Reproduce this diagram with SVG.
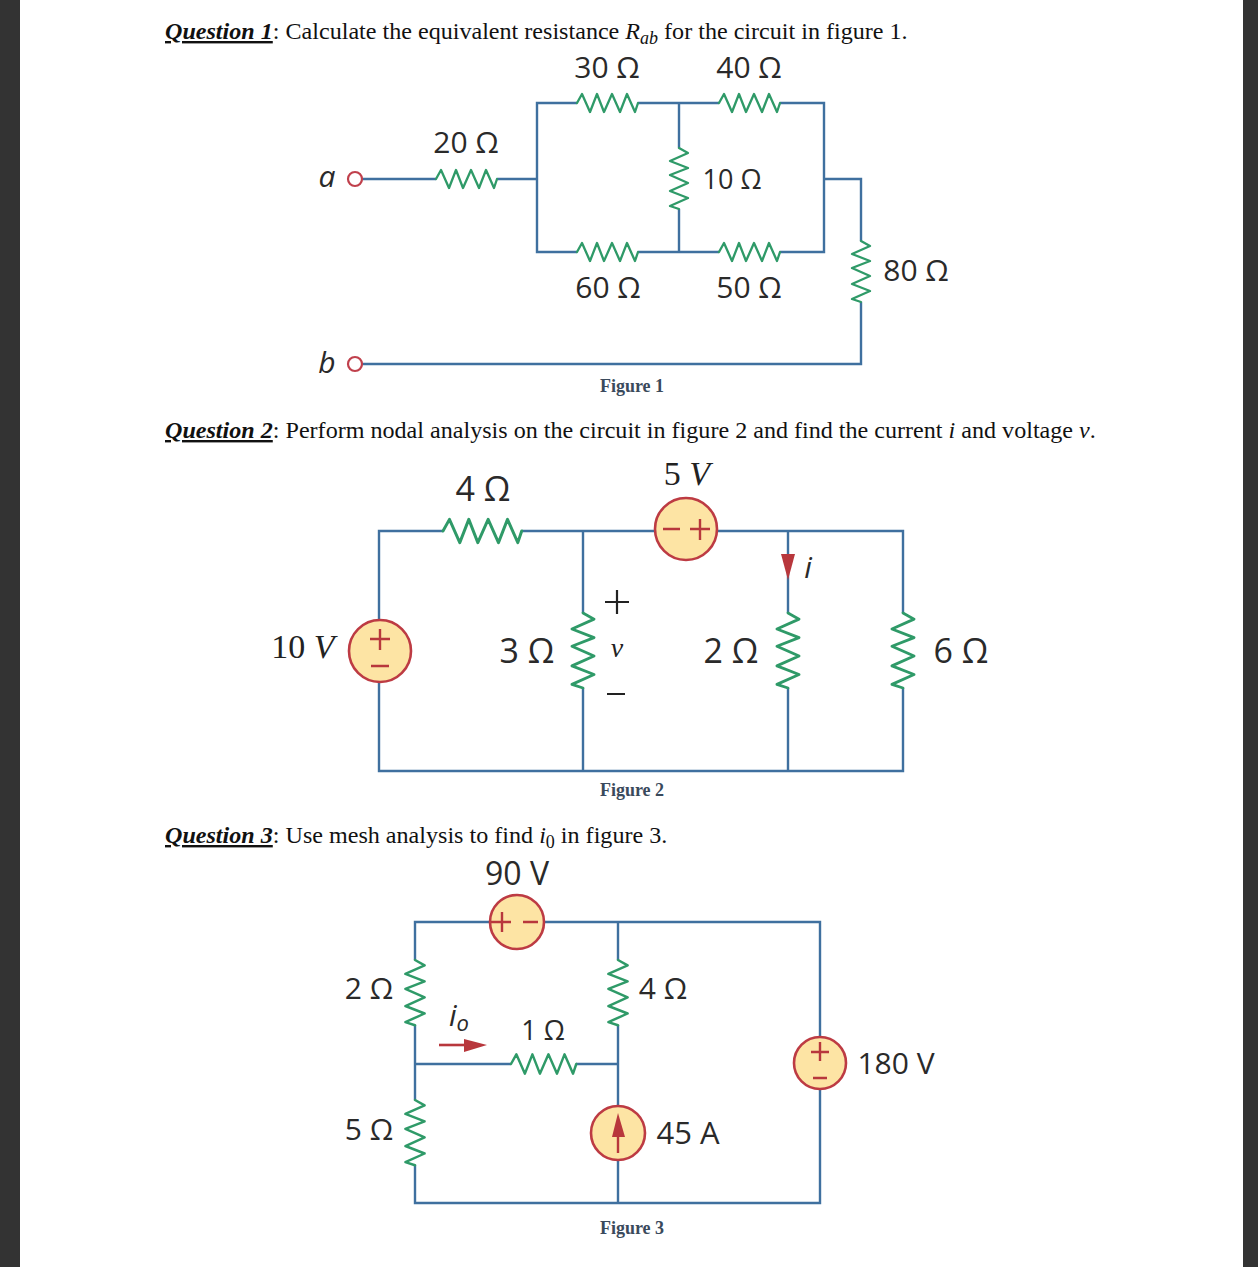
<svg xmlns="http://www.w3.org/2000/svg" width="1258" height="1267" viewBox="0 0 1258 1267">
<style>
.w{fill:none;stroke:#3f709f;stroke-width:2.4;stroke-linejoin:miter}
.z{fill:none;stroke:#2f9a68;stroke-width:2.3;stroke-linejoin:round;stroke-linecap:round}
.src{fill:#fde4a4;stroke:#bd3b43;stroke-width:2.6}
.sym{fill:none;stroke:#b8373c;stroke-width:2.4}
.term{fill:#fff;stroke:#c0404c;stroke-width:2.2}
.red{fill:#b8373c}
.q{font-family:"Liberation Serif",serif;font-size:24.1px;fill:#111}
.qb{font-weight:bold;font-style:italic;text-decoration:underline}
.m{font-style:italic}
.cap{font-family:"Liberation Serif",serif;font-size:18px;font-weight:bold;fill:#3a4a5c;text-anchor:middle}
.l{font-family:"Open Sans",sans-serif;font-size:30px;fill:#2a2a2a;text-anchor:middle}
.l2{font-family:"Open Sans",sans-serif;font-size:34px;fill:#2a2a2a;text-anchor:middle}
.i{font-family:"Open Sans",sans-serif;font-style:italic;fill:#2a2a2a;text-anchor:middle}
.s{font-family:"Liberation Serif",serif;font-size:34px;fill:#222;text-anchor:middle}
</style>
<defs>
<path id="r" class="z" d="M0 0L5-9L13 9L20-9L27 9L35-9L43 9L50-9L58 9L61 0"/>
</defs>
<rect width="1258" height="1267" fill="#fff"/>
<rect x="0" y="0" width="20" height="1267" fill="#333"/>
<rect x="1243" y="0" width="15" height="1267" fill="#333"/>

<g id="question-1">
<text class="q" x="165" y="39"><tspan class="qb">Question 1</tspan>: Calculate the equivalent resistance <tspan class="m">R</tspan><tspan class="m" font-size="18" dy="5">ab</tspan><tspan dy="-5"> for the circuit in figure 1.</tspan></text>
</g>
<g id="question-2">
<text class="q" x="165" y="438"><tspan class="qb">Question 2</tspan>: Perform nodal analysis on the circuit in figure 2 and find the current <tspan class="m">i</tspan> and voltage <tspan class="m">v</tspan>.</text>
</g>
<g id="question-3">
<text class="q" x="165" y="843"><tspan class="qb">Question 3</tspan>: Use mesh analysis to find <tspan class="m">i</tspan><tspan font-size="18" dy="5">0</tspan><tspan dy="-5"> in figure 3.</tspan></text>
</g>

<g id="connectors">
<path class="w" d="M362 179H436M497 179H537M577 103H537V252H577M638 103H719M780 103H824V252H780M719 252H638M679 103V148M679 209V252M824 179H861V241M861 302V364H362"/>
<path class="w" d="M443 531H379V620M379 682V771H903V688M522 531H655M717 531H903V613M583 531V613M583 688V771M788 531V613M788 688V771"/>
<path class="w" d="M490 922H415V960M415 1025V1100M415 1165V1203H820V1090M544 922H820V1037M618 922V960M618 1025V1106M618 1160V1203M415 1064H511M576 1064H618"/>
</g>

<g id="fig1">
<g id="term-a"><circle class="term" cx="355" cy="179" r="7"/><text class="i" x="327" y="187" font-size="30">a</text></g>
<g id="term-b"><circle class="term" cx="355" cy="364" r="7"/><text class="i" x="327" y="373" font-size="30">b</text></g>
<g id="r20"><use href="#r" x="436" y="179"/><text class="l" x="466" y="153">20 Ω</text></g>
<g id="r30"><use href="#r" x="577" y="103"/><text class="l" x="607" y="78">30 Ω</text></g>
<g id="r40"><use href="#r" x="719" y="103"/><text class="l" x="749" y="78">40 Ω</text></g>
<g id="r10"><use href="#r" transform="translate(679 148) rotate(90)"/><text class="l" x="732" y="189" style="font-size:27px">10 Ω</text></g>
<g id="r60"><use href="#r" x="577" y="252"/><text class="l" x="608" y="298">60 Ω</text></g>
<g id="r50"><use href="#r" x="719" y="252"/><text class="l" x="749" y="298">50 Ω</text></g>
<g id="r80"><use href="#r" transform="translate(861 241) rotate(90)"/><text class="l" x="916" y="281">80 Ω</text></g>
<text class="cap" x="632" y="392">Figure 1</text>
</g>

<g id="fig2">
<g id="r4"><use href="#r" transform="translate(443 531) scale(1.29)"/><text class="l2" x="483" y="501">4 Ω</text></g>
<g id="v5"><circle class="src" cx="686" cy="529" r="31"/><path class="sym" d="M663 529H680M690 529H710M700 519V540"/><text class="s" x="687" y="485">5 <tspan font-style="italic">V</tspan></text></g>
<g id="v10"><circle class="src" cx="380" cy="651" r="31"/><path class="sym" d="M380 629V650M370 639H390M371 666H389"/><text class="s" x="303" y="658">10 <tspan font-style="italic">V</tspan></text></g>
<g id="r3"><use href="#r" transform="translate(583 613) rotate(90) scale(1.23)"/><text class="l2" x="527" y="663">3 Ω</text></g>
<g id="r2"><use href="#r" transform="translate(788 613) rotate(90) scale(1.23)"/><text class="l2" x="731" y="663">2 Ω</text></g>
<g id="r6"><use href="#r" transform="translate(903 613) rotate(90) scale(1.23)"/><text class="l2" x="961" y="663">6 Ω</text></g>
<g id="voltage-v"><path d="M617 590V614M605 602H629M607 694H625" fill="none" stroke="#222" stroke-width="2.2"/><text x="617" y="657" font-family="Liberation Serif,serif" font-style="italic" font-size="28" fill="#222" text-anchor="middle">v</text></g>
<g id="current-i"><path class="red" d="M781 554H795L788 580Z"/><text class="i" x="808" y="578" font-size="30">i</text></g>
<text class="cap" x="632" y="796">Figure 2</text>
</g>

<g id="fig3">
<g id="v90"><circle class="src" cx="517" cy="922" r="27"/><path class="sym" d="M491 922H511M502 912V932M523 922H538"/><text class="l" x="517" y="885" style="font-size:32px">90 V</text></g>
<g id="v180"><circle class="src" cx="820" cy="1063" r="26"/><path class="sym" d="M820 1042V1061M811 1052H829M813 1078H827"/><text class="l" x="896" y="1074">180 V</text></g>
<g id="a45"><circle class="src" cx="618" cy="1133" r="27"/><path class="sym" d="M618 1153V1130"/><path class="red" d="M612 1137H625L618 1113Z"/><text class="l" x="688" y="1144" style="font-size:31px">45 A</text></g>
<g id="r2b"><use href="#r" transform="translate(415 960) rotate(90) scale(1.07)"/><text class="l" x="369" y="999">2 Ω</text></g>
<g id="r5b"><use href="#r" transform="translate(415 1100) rotate(90) scale(1.07)"/><text class="l" x="369" y="1140">5 Ω</text></g>
<g id="r4b"><use href="#r" transform="translate(618 960) rotate(90) scale(1.07)"/><text class="l" x="663" y="999">4 Ω</text></g>
<g id="r1b"><use href="#r" transform="translate(511 1064) scale(1.07)"/><text class="l" x="543" y="1040" style="font-size:27px">1 Ω</text></g>
<g id="current-io"><path d="M439 1045H465" fill="none" stroke="#b8373c" stroke-width="2.6"/><path class="red" d="M464 1039L487 1045L464 1052Z"/><text class="i" x="459" y="1026" font-size="30">i<tspan font-size="22" dy="5">o</tspan></text></g>
<text class="cap" x="632" y="1234">Figure 3</text>
</g>
</svg>
